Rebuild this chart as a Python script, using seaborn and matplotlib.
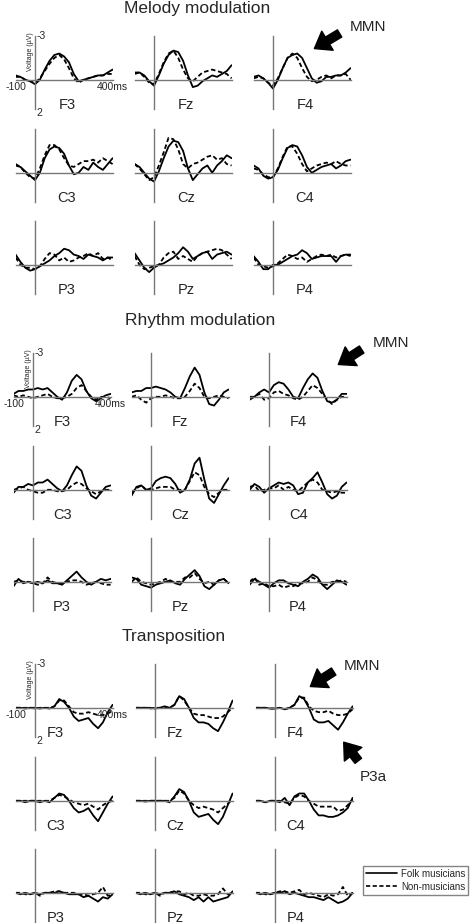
"""ERP difference waves: melody / rhythm / transposition, folk musicians vs non-musicians"""

import matplotlib
matplotlib.use('Agg')
import matplotlib.pyplot as plt
from matplotlib.lines import Line2D
import seaborn as sns
import numpy as np

# time axis (ms), 25 ms steps
TIME = [-100, -75, -50, -25, 0, 25, 50, 75, 100, 125, 150, 175, 200, 225, 250, 275, 300, 325, 350, 375, 400]
CHANNELS = ['F3', 'Fz', 'F4', 'C3', 'Cz', 'C4', 'P3', 'Pz', 'P4']
SECTIONS = ['Melody modulation', 'Rhythm modulation', 'Transposition']

# ---------------- melody modulation (µV, negative up) ----------------
mel_folk = {
    'F3': [-0.2,-0.2,0.0,0.1,0.3,0.0,-0.7,-1.3,-1.7,-1.8,-1.6,-1.2,-0.4,0.1,0.0,-0.1,-0.2,-0.3,-0.3,-0.5,-0.7],
    'Fz': [-0.4,-0.5,-0.3,0.1,0.4,-0.3,-1.1,-1.7,-2.0,-1.9,-1.3,-0.3,0.5,0.4,0.1,-0.1,-0.3,-0.2,-0.4,-0.6,-1.0],
    'F4': [-0.2,-0.3,-0.1,0.2,0.6,0.0,-0.8,-1.5,-1.7,-1.8,-1.5,-0.8,-0.1,0.2,0.1,-0.2,-0.2,-0.3,-0.3,-0.5,-0.8],
    'C3': [-0.5,-0.4,-0.1,0.2,0.5,0.0,-1.0,-1.6,-1.8,-1.7,-1.3,-0.5,0.1,0.0,-0.4,-0.2,-0.7,-0.4,-0.2,-0.6,-1.0],
    'Cz': [-0.6,-0.4,0.0,0.4,0.6,-0.1,-1.0,-1.8,-2.2,-2.1,-1.5,-0.3,0.5,0.1,-0.3,-0.5,0.0,-0.5,-0.8,-1.2,-1.0],
    'C4': [-0.5,-0.3,0.2,0.4,0.3,-0.2,-1.0,-1.7,-1.9,-1.8,-1.2,-0.4,0.0,-0.2,-0.4,-0.5,-0.6,-0.3,-0.5,-0.8,-0.9],
    'P3': [-0.7,-0.2,0.2,0.4,0.3,0.1,-0.1,-0.3,-0.6,-0.8,-1.1,-1.0,-0.7,-0.6,-0.4,-0.7,-0.6,-0.5,-0.3,-0.5,-0.5],
    'Pz': [-0.8,-0.3,0.2,0.5,0.2,0.0,-0.1,-0.3,-0.5,-0.8,-1.2,-0.9,-0.4,-0.6,-0.8,-0.9,-0.4,-0.7,-0.8,-0.9,-0.7],
    'P4': [-0.6,-0.2,0.3,0.3,0.0,0.0,-0.2,-0.4,-0.6,-0.7,-1.0,-0.8,-0.4,-0.5,-0.6,-0.6,-0.6,-0.2,-0.6,-0.7,-0.7],
}
mel_non = {
    'F3': [-0.3,-0.2,0.0,0.1,0.2,-0.1,-0.6,-1.1,-1.5,-1.7,-1.4,-0.8,-0.1,0.2,0.0,-0.1,-0.2,-0.3,-0.3,-0.4,-0.4],
    'Fz': [-0.5,-0.5,-0.2,0.2,0.3,-0.4,-1.2,-1.8,-2.0,-1.5,-0.7,-0.1,0.1,-0.2,-0.5,-0.6,-0.7,-0.6,-0.5,-0.4,-0.1],
    'F4': [-0.1,-0.2,-0.1,0.2,0.4,-0.1,-0.8,-1.5,-1.8,-1.5,-0.8,-0.2,0.1,0.0,-0.2,-0.3,-0.1,-0.3,-0.3,-0.4,0.0],
    'C3': [-0.6,-0.4,0.0,0.3,0.4,-0.3,-1.2,-1.9,-1.9,-1.6,-1.0,-0.5,-0.4,-0.6,-0.8,-0.8,-0.9,-0.7,-1.0,-0.8,-0.6],
    'Cz': [-0.6,-0.3,0.1,0.5,0.3,-0.5,-1.4,-2.4,-2.3,-1.6,-0.6,-0.3,-0.6,-0.7,-0.9,-1.1,-1.2,-0.9,-1.0,-0.6,-0.5],
    'C4': [-0.3,-0.2,0.1,0.3,0.3,-0.3,-1.1,-1.8,-1.8,-1.3,-0.6,-0.1,-0.3,-0.5,-0.6,-0.7,-0.6,-0.8,-0.6,-0.5,-0.5],
    'P3': [-0.5,0.0,0.2,0.2,0.3,0.1,-0.4,-0.8,-0.7,-0.3,-0.5,-0.2,-0.3,-0.5,-0.6,-0.8,-0.6,-0.8,-0.4,-0.5,-0.3],
    'Pz': [-0.6,0.0,0.3,0.2,0.1,0.0,-0.5,-0.8,-0.9,-0.4,-0.6,-0.4,-0.2,-0.6,-0.8,-0.9,-1.0,-1.1,-1.0,-0.7,-0.4],
    'P4': [-0.5,0.0,0.1,0.2,0.1,-0.1,-0.4,-0.7,-0.6,-0.4,-0.5,-0.2,-0.4,-0.6,-0.7,-0.6,-0.7,-0.5,-0.6,-0.7,-0.6],
}

# ---------------- rhythm modulation ----------------
rhy_folk = {
    'F3': [-0.2,-0.4,-0.4,-0.5,-0.5,-0.6,-0.5,-0.6,-0.3,0.0,0.2,-0.3,-1.1,-1.5,-1.2,-0.4,0.1,0.3,0.1,-0.1,-0.2],
    'Fz': [-0.3,-0.4,-0.4,-0.6,-0.6,-0.7,-0.6,-0.5,-0.3,0.0,0.1,-0.6,-1.4,-2.0,-1.5,-0.3,0.5,0.6,0.2,-0.3,-0.5],
    'F4': [0.2,0.0,-0.3,-0.5,-0.3,-0.8,-1.0,-0.9,-0.5,0.0,0.1,-0.6,-1.2,-1.6,-1.3,-0.4,0.3,0.4,0.2,-0.2,-0.2],
    'C3': [0.2,-0.2,-0.2,-0.4,-0.3,-0.5,-0.5,-0.7,-0.4,-0.1,0.1,-0.3,-1.0,-1.6,-1.3,-0.3,0.4,0.6,0.2,-0.2,-0.3],
    'Cz': [0.4,-0.2,-0.3,0.0,-0.1,-0.6,-0.8,-0.9,-0.8,-0.4,0.2,0.0,-0.7,-1.8,-2.2,-0.7,0.6,0.9,0.3,-0.3,-0.8],
    'C4': [0.0,-0.4,-0.2,0.2,-0.1,-0.3,-0.5,-0.4,-0.5,-0.3,0.3,0.2,-0.5,-0.8,-1.2,-0.5,0.3,0.6,0.4,-0.2,-0.5],
    'P3': [0.3,-0.2,0.1,0.0,0.1,0.0,0.1,-0.1,0.1,0.1,0.2,-0.1,-0.4,-0.7,-0.3,0.0,0.2,0.0,-0.2,-0.1,-0.2],
    'Pz': [-0.3,-0.2,0.2,0.3,0.4,0.2,0.1,0.0,-0.1,0.1,0.2,-0.2,-0.5,-0.8,-0.4,0.3,0.5,0.2,-0.1,-0.2,0.1],
    'P4': [0.2,-0.2,0.0,0.2,0.4,0.1,-0.1,-0.1,0.1,0.2,0.3,0.0,-0.2,-0.5,-0.3,0.2,0.5,0.2,-0.1,0.0,0.2],
}
rhy_non = {
    'F3': [-0.1,0.0,-0.1,0.0,0.1,0.0,-0.1,-0.2,0.0,0.1,0.1,0.0,-0.2,-0.6,-0.8,-0.4,0.0,0.2,0.0,0.0,0.1],
    'Fz': [0.0,-0.1,0.2,0.4,0.1,0.0,0.0,-0.1,0.0,0.1,0.1,0.0,-0.4,-0.9,-0.6,0.0,0.1,0.0,-0.1,0.0,0.1],
    'F4': [0.0,0.0,-0.2,0.2,0.1,-0.3,-0.4,-0.2,-0.1,0.1,0.2,0.0,-0.4,-0.8,-0.6,-0.2,0.2,0.5,0.2,0.0,0.0],
    'C3': [0.0,-0.1,-0.2,0.0,0.1,0.2,0.2,0.0,0.0,0.1,0.1,0.0,-0.3,-0.5,-0.4,-0.1,0.1,0.3,0.1,0.0,0.0],
    'Cz': [0.2,-0.1,-0.3,0.0,0.0,-0.1,-0.2,-0.2,-0.2,0.0,0.0,0.0,-0.6,-1.2,-1.0,-0.2,0.3,0.5,0.2,0.0,0.0],
    'C4': [-0.2,-0.3,0.1,0.0,-0.1,-0.1,-0.3,0.0,-0.2,0.0,0.1,-0.2,-0.5,-0.7,-0.5,0.0,0.1,0.2,0.1,0.2,0.2],
    'P3': [0.0,-0.1,0.0,0.0,0.1,0.2,0.1,-0.3,0.0,0.1,0.1,0.0,-0.1,-0.1,0.0,0.2,0.1,0.0,0.1,0.2,0.2],
    'Pz': [0.0,-0.3,0.0,0.1,0.2,0.1,0.0,-0.2,0.0,0.0,0.0,-0.3,-0.3,-0.6,-0.2,0.1,0.0,0.2,-0.1,-0.2,0.1],
    'P4': [0.0,-0.3,0.2,0.1,0.3,0.3,0.2,0.4,0.3,0.3,0.1,0.1,0.0,-0.3,-0.1,0.2,0.2,0.0,0.0,-0.1,0.0],
}

# ---------------- transposition ----------------
tra_folk = {
    'F3': [0,0,0.05,0,0,0.05,0,0.05,-0.1,-0.6,-0.4,0.0,0.6,0.9,0.8,0.7,1.1,1.4,1.0,0.3,-0.2],
    'Fz': [0,0,0,0,0.05,0,-0.1,0,-0.2,-0.8,-0.6,0.0,0.7,1.0,1.0,1.1,1.4,1.6,1.0,0.3,-0.5],
    'F4': [0,0,0,0.05,0.05,0,0.1,0,-0.2,-0.8,-0.6,0.0,0.8,1.0,1.0,0.9,1.2,1.5,1.0,0.4,-0.1],
    'C3': [0,0,0.1,0,0,0.1,0,0.1,-0.2,-0.5,-0.4,0.0,0.5,0.8,0.7,0.5,1.0,1.4,0.8,0.2,-0.3],
    'Cz': [0,0,0.05,0,0,0,0,0.1,-0.3,-0.8,-0.6,0.0,0.8,1.1,1.0,0.9,1.3,1.6,1.1,0.3,-0.5],
    'C4': [0,0,0.1,0,0,0.1,-0.2,0.3,-0.3,-0.5,-0.5,0.0,0.6,1.0,1.0,1.1,1.1,1.0,0.8,0.5,-0.2],
    'P3': [0,0.1,0,0.1,0,0.1,0,0,0,-0.1,0,0.1,0.1,0.1,0.3,0.2,0.4,0.6,0.3,0.4,0.1],
    'Pz': [0,0.1,0,0.1,0,0.1,0,0,-0.1,0.1,0.2,0.3,0.5,0.3,0.6,0.3,0.6,0.5,0.4,0.3,-0.1],
    'P4': [0,0.1,0,0.1,0,0,-0.1,0.1,0,0.1,0.2,0.3,0.3,0.4,0.5,0.3,0.5,0.7,0.6,0.4,0.0],
}
tra_non = {
    'F3': [0,0,0,0,0.05,0,0,0,-0.1,-0.5,-0.5,-0.1,0.3,0.4,0.4,0.3,0.4,0.5,0.5,0.4,0.2],
    'Fz': [0,0,0,0.05,0,0,0,0,-0.2,-0.8,-0.5,0.0,0.4,0.5,0.5,0.6,0.7,0.7,0.6,0.3,0.0],
    'F4': [0,0,0,0.05,0.05,0,0.1,0,-0.2,-0.7,-0.7,-0.1,0.2,0.3,0.3,0.2,0.4,0.5,0.5,0.4,0.1],
    'C3': [0,0,0,0,0,0,0,0,-0.2,-0.4,-0.3,-0.1,0.1,0.2,0.3,0.2,0.4,0.6,0.3,0.1,0.0],
    'Cz': [0,0,0,0,0,0,0,0,-0.2,-0.7,-0.5,0.0,0.3,0.5,0.4,0.5,0.6,0.8,0.5,0.2,-0.1],
    'C4': [0,0,0.1,0,0,0,0.1,0.2,-0.2,-0.4,-0.3,0.0,0.2,0.4,0.4,0.4,0.4,0.7,0.6,0.3,-0.1],
    'P3': [0,0,0.1,0.1,0,0.2,0,0,-0.1,-0.1,0,0,0,0.1,0.1,0.2,0.1,0,-0.4,0.2,0.1],
    'Pz': [0,0,0.1,0.1,0,0.2,0,0,-0.1,-0.1,0.1,0,0.2,0.2,0.1,0.2,0.2,0.1,-0.3,0.1,0.0],
    'P4': [0,0,0.1,0.1,0,-0.1,-0.1,0,-0.1,-0.2,0.1,0,0.1,0.2,0.3,0.1,0.2,0.1,-0.4,0.2,0.0],
}

DATA = [(mel_folk, mel_non), (rhy_folk, rhy_non), (tra_folk, tra_non)]

# ---------------- layout (pixels) ----------------
W, H = 474, 923
ZERO_X = [[35, 154, 273], [33, 151, 269], [35, 155, 275]]   # x pixel of 0 ms per column
ZERO_Y = [[80, 173, 265], [397, 490, 582], [708, 801, 893]]  # y pixel of 0 µV per row
LABEL_T = [165, 150, 105]
TITLE_XY = [(197, 8), (200, 320), (174, 637)]
PX_W, PX_UP, PX_DN = 97, 44, 29

sns.set_style('white')
plt.rcParams['font.family'] = ['Liberation Sans', 'DejaVu Sans']
AXC = '#777777'

fig = plt.figure(figsize=(W / 100, H / 100), dpi=100)

for s, (folk, non) in enumerate(DATA):
    for i, ch in enumerate(CHANNELS):
        r, c = divmod(i, 3)
        x0 = ZERO_X[s][c] - PX_W / 5
        y0 = ZERO_Y[s][r]
        ax = fig.add_axes([x0 / W, 1 - (y0 + PX_DN) / H, PX_W / W, (PX_UP + PX_DN) / H])
        sns.lineplot(x=TIME, y=folk[ch], ax=ax, color='black', lw=1.3)
        sns.lineplot(x=TIME, y=non[ch], ax=ax, color='black', lw=1.3, linestyle=(0, (2.5, 1.5)))
        ax.set_xlim(-100, 400)
        ax.set_ylim(2, -3)
        ax.patch.set_alpha(0)
        for sp in ['top', 'right']:
            ax.spines[sp].set_visible(False)
        ax.spines['left'].set_position(('data', 0))
        ax.spines['bottom'].set_position(('data', 0))
        for sp in ['left', 'bottom']:
            ax.spines[sp].set_color(AXC)
            ax.spines[sp].set_linewidth(1)
        ax.set_xticks([-100, 0, 100, 200, 300, 400])
        ax.set_yticks([-3, -2, -1, 0, 1, 2])
        ax.tick_params(direction='inout', length=3, color=AXC, labelleft=False, labelbottom=False)
        ax.text(LABEL_T[s], 1.7, ch, fontsize=10.5, ha='center', va='center')
        if i == 0:
            ax.text(8, -3, '-3', fontsize=7.5, va='center', ha='left')
            ax.text(8, 2.3, '2', fontsize=7.5, va='center', ha='left', clip_on=False)
            ax.text(-100, 0.5, '-100', fontsize=7.5, va='center', ha='center')
            ax.text(400, 0.5, '400ms', fontsize=7.5, va='center', ha='center')
            ax.text(-25, -1.9, 'Voltage (µV)', fontsize=5, rotation=90, va='center', ha='center')

    fig.text(TITLE_XY[s][0] / W, 1 - TITLE_XY[s][1] / H, SECTIONS[s], fontsize=12.5, ha='center', va='center')

# annotation overlay in pixel coordinates
ov = fig.add_axes([0, 0, 1, 1])
ov.set_xlim(0, W)
ov.set_ylim(H, 0)
ov.axis('off')
ov.patch.set_alpha(0)
arrow = dict(arrowstyle='simple,head_width=1.6,head_length=1.1,tail_width=0.6', color='black')
for txt, tx, ty, x1, y1, x2, y2 in [
    ('MMN', 350, 27, 342, 32, 312, 50),
    ('MMN', 373, 343, 364, 348, 336, 366),
    ('MMN', 344, 666, 336, 670, 308, 688),
    ('P3a', 360, 777, 360, 763, 342, 740),
]:
    ov.annotate('', xy=(x2, y2), xytext=(x1, y1), arrowprops=arrow)
    ov.text(tx, ty, txt, fontsize=11, va='center', ha='left')

handles = [Line2D([], [], color='black', lw=1.2),
           Line2D([], [], color='black', lw=1.2, linestyle=(0, (2.5, 1.5)))]
fig.legend(handles, ['Folk musicians', 'Non-musicians'], loc='upper right',
           bbox_to_anchor=(473 / W, 1 - 861 / H), fontsize=7, frameon=True,
           fancybox=False, edgecolor='#666666', handlelength=3.2, borderpad=0.3,
           labelspacing=0.3, handletextpad=0.4)

fig.savefig('out.png', dpi=100)
